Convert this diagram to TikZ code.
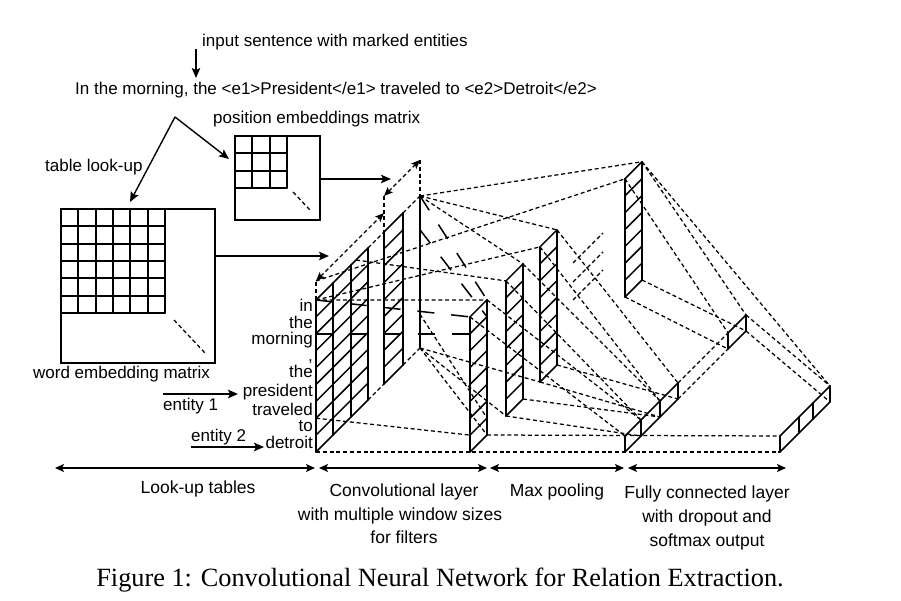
\documentclass[tikz,border=0pt]{standalone}
\usepackage{fontspec}
\setmainfont{Liberation Sans}
\newfontfamily\capfont{Liberation Serif}
\usetikzlibrary{arrows.meta}
\newcommand{\pp}[3]{({(#1)+(#3)},{(#2)-(#3)})}
\newcommand{\cc}[4]{\path \pp{#2}{#3}{#4} coordinate (#1);}
\begin{document}
\begin{tikzpicture}[x=1pt,y=-1pt,
  sl/.style={line width=1.5pt, line cap=round},
  dl/.style={line width=1.25pt, dash pattern=on 4pt off 2.8pt},
  ld/.style={line width=1.5pt, dash pattern=on 17pt off 17pt},
  lbl/.style={font=\fontsize{17}{20}\selectfont, inner sep=0pt},
  wlbl/.style={lbl, anchor=base east},
  blbl/.style={font=\fontsize{17.5}{20}\selectfont, inner sep=0pt, anchor=base},
  arr/.style={line width=1.4pt, -{Stealth[length=10pt,width=8.5pt,inset=2pt]}},
  darr/.style={dl, {Stealth[length=9pt,width=7.5pt,inset=2pt]}-{Stealth[length=9pt,width=7.5pt,inset=2pt]}},
  barr/.style={line width=1.3pt, {Stealth[length=9pt,width=8pt,inset=2pt]}-{Stealth[length=9pt,width=8pt,inset=2pt]}}
]
\useasboundingbox (0,0) rectangle (901,601);

% ---------- texts ----------
\node[lbl,anchor=base west] (inp) at (202,47) {input sentence with marked entities};
\node[lbl,anchor=base west] (sent) at (75,95) {In the morning, the <e1>President</e1> traveled to <e2>Detroit</e2>};
\node[lbl,anchor=base west] (posl) at (213,124) {position embeddings matrix};
\node[lbl,anchor=base west] (tabl) at (45,172) {table look-up};
\node[lbl,anchor=base west] (wordl) at (33,378) {word embedding matrix};
\node[lbl,anchor=base west] (ent1) at (163,410) {entity 1};
\node[lbl,anchor=base west] (ent2) at (191,441) {entity 2};

\node[wlbl] (w1) at (313,312) {in};
\node[wlbl] (w2) at (313,328) {the};
\node[wlbl] (w3) at (313,344) {morning};
\node[wlbl] (w4) at (313,361) {,};
\node[wlbl] (w5) at (313,377) {the};
\node[wlbl] (w6) at (313,396) {president};
\node[wlbl] (w7) at (313,415) {traveled};
\node[wlbl] (w8) at (313,431) {to};
\node[wlbl] (w9) at (313,448) {detroit};

\node[blbl] (b1) at (198,493) {Look-up tables};
\node[blbl] (b2a) at (404,496) {Convolutional layer};
\node[blbl] (b2b) at (400,520) {with multiple window sizes};
\node[blbl] (b2c) at (404,543) {for filters};
\node[blbl] (b3) at (557,496) {Max pooling};
\node[blbl] (b4a) at (707,498) {Fully connected layer};
\node[blbl] (b4b) at (707,522) {with dropout and};
\node[blbl] (b4c) at (707,546) {softmax output};

\node[font=\capfont\fontsize{26.3}{30}\selectfont, inner sep=0pt, anchor=base] (cap) at (440,586) {Figure 1: Convolutional Neural Network for Relation Extraction.};

% ---------- top arrows ----------
\coordinate (ia) at (196,49); \coordinate (ib) at (196,78);
\draw[arr] (ia) -- (ib);
\coordinate (split) at (175,117);
\coordinate (tw) at (130,202); \coordinate (tp) at (229,159);
\draw[arr] (split) -- (tw);
\draw[arr] (split) -- (tp);

% ---------- matrices ----------
\draw[sl] (61,209) rectangle (215,363);
\foreach \v in {61,78,96,113,130,148,165} \draw[sl] (\v,209) -- (\v,313);
\foreach \v in {209,226,244,261,278,296,313} \draw[sl] (61,\v) -- (165,\v);
\draw[dl] (174,320) -- (205,353);
\draw[sl] (235,136) rectangle (320,220);
\foreach \v in {235,252,270,287} \draw[sl] (\v,136) -- (\v,188);
\foreach \v in {136,153,171,188} \draw[sl] (235,\v) -- (287,\v);
\draw[dl] (293,192) -- (310,210);

\coordinate (wm) at (215,256); \coordinate (wmt) at (329,256);
\coordinate (pm) at (320,179); \coordinate (pmt) at (391,179);
\draw[arr] (wm) -- (wmt);
\draw[arr] (pm) -- (pmt);

\coordinate (e1a) at (163,394); \coordinate (e1b) at (238,394);
\coordinate (e2a) at (191,447); \coordinate (e2b) at (264,447);
\draw[arr] (e1a) -- (e1b);
\draw[arr] (e2a) -- (e2b);

% ---------- bottom range arrows ----------
\coordinate (r0) at (55,468); \coordinate (r1) at (315,468);
\coordinate (r2) at (319,468); \coordinate (r3) at (487,468);
\coordinate (r4) at (490,468); \coordinate (r5) at (624,468);
\coordinate (r6) at (628,468); \coordinate (r7) at (786,468);
\draw[barr] (r0) -- (r1);
\draw[barr] (r2) -- (r3);
\draw[barr] (r4) -- (r5);
\draw[barr] (r6) -- (r7);

% ---------- input box ----------
\foreach \d in {0,17,35,52} \draw[sl] \pp{316}{300}{\d} -- \pp{316}{452}{\d};
\foreach \k in {0,...,9} \draw[sl] \pp{316}{300+\k*16.89}{0} -- \pp{316}{300+\k*16.89}{52};
\foreach \d in {68,87} \draw[sl] \pp{316}{300}{\d} -- \pp{316}{452}{\d};
\foreach \k in {0,...,9} \draw[sl] \pp{316}{300+\k*16.89}{68} -- \pp{316}{300+\k*16.89}{87};
\draw[sl] \pp{316}{300}{104} -- \pp{316}{452}{104};
\foreach \y in {300,452} {
  \draw[dl] \pp{316}{\y}{52} -- \pp{316}{\y}{68};
  \draw[dl] \pp{316}{\y}{87} -- \pp{316}{\y}{104};
}
% dimension arrows
\draw[dl] \pp{316}{300}{0} -- \pp{316}{281}{0};
\draw[darr] \pp{316}{281}{0} -- \pp{316}{281}{68};
\draw[dl] \pp{316}{264}{68} -- \pp{316}{300}{68};
\draw[darr] \pp{316}{264}{68} -- \pp{316}{264}{104};
\draw[dl] \pp{316}{264}{104} -- \pp{316}{300}{104};

% ---------- conv feature columns ----------
\foreach \a/\b in {0/17,36/53,70/87} {
  \draw[sl] \pp{470}{316.9}{\a} -- \pp{470}{452}{\a};
  \draw[sl] \pp{470}{316.9}{\b} -- \pp{470}{452}{\b};
  \foreach \k in {0,...,8} \draw[sl] \pp{470}{316.9+\k*16.89}{\a} -- \pp{470}{316.9+\k*16.89}{\b};
}
\draw[sl] \pp{470}{333.8}{155} -- \pp{470}{452}{155};
\draw[sl] \pp{470}{333.8}{172} -- \pp{470}{452}{172};
\foreach \k in {0,...,7} \draw[sl] \pp{470}{333.8+\k*16.89}{155} -- \pp{470}{333.8+\k*16.89}{172};

% ---------- pooled vector, small bar, output ----------
\draw[sl] \pp{625}{436}{0} -- \pp{625}{436}{53};
\draw[sl] \pp{625}{452}{0} -- \pp{625}{452}{53};
\foreach \d in {0,16,35,53} \draw[sl] \pp{625}{436}{\d} -- \pp{625}{452}{\d};
\draw[sl] \pp{625}{436}{103} -- \pp{625}{436}{121};
\draw[sl] \pp{625}{452}{103} -- \pp{625}{452}{121};
\foreach \d in {103,121} \draw[sl] \pp{625}{436}{\d} -- \pp{625}{452}{\d};
\draw[sl] \pp{780}{436}{0} -- \pp{780}{436}{50};
\draw[sl] \pp{780}{452}{0} -- \pp{780}{452}{50};
\foreach \d in {0,19,33,50} \draw[sl] \pp{780}{436}{\d} -- \pp{780}{452}{\d};

% ---------- named corners ----------
\cc{FT}{316}{300}{0}
\cc{FT2}{316}{281}{0}
\cc{BT}{316}{300}{104}
\cc{BB}{316}{452}{104}
\cc{FB}{316}{452}{0}
\cc{FW1}{316}{333.8}{0}
\cc{BW1}{316}{333.8}{104}
\cc{FWn}{316}{418.2}{0}
\cc{BWn}{316}{418.2}{104}
\coordinate (Bsrc) at (356,260);
\cc{ATL}{470}{316.9}{0}
\cc{ATR}{470}{316.9}{17}
\cc{ABL}{470}{452}{0}
\cc{ABR}{470}{452}{17}
\cc{A1L}{470}{333.8}{0}
\cc{A1R}{470}{333.8}{17}
\cc{AnL}{470}{435.1}{0}
\cc{AnR}{470}{435.1}{17}
\cc{BTL}{470}{316.9}{36}
\cc{BTR}{470}{316.9}{53}
\cc{BBL}{470}{452}{36}
\cc{BBR}{470}{452}{53}
\cc{CTL}{470}{316.9}{70}
\cc{CTR}{470}{316.9}{87}
\cc{CBL}{470}{452}{70}
\cc{CBR}{470}{452}{87}
\cc{DTL}{470}{333.8}{155}
\cc{DTR}{470}{333.8}{172}
\cc{DBL}{470}{452}{155}
\cc{DBR}{470}{452}{172}
\cc{P0t}{625}{436}{0}
\cc{P1t}{625}{436}{16}
\cc{P2t}{625}{436}{35}
\cc{P3t}{625}{436}{53}
\cc{P1b}{625}{452}{16}
\cc{P2b}{625}{452}{35}
\cc{P3b}{625}{452}{53}
\cc{STL}{625}{436}{103}
\cc{STR}{625}{436}{121}
\cc{SBL}{625}{452}{103}
\cc{SBR}{625}{452}{121}
\cc{OTL}{780}{436}{0}
\cc{OTR}{780}{436}{50}
\cc{OBL}{780}{452}{0}
\cc{OBR}{780}{452}{50}

% ---------- filter (long dashed) ----------
\draw[ld] (FT) -- (ATL);
\draw[ld] (FW1) -- (A1L);
\draw[ld] (BT) -- (ATR);
\draw[ld] (BW1) -- (A1R);

% ---------- convolution connectors ----------
\draw[dl] (FWn) -- (AnL);
\draw[dl] (BWn) -- (AnR);
\draw[dl] (BB) -- (ABR);
\draw[dl] (FB) -- (OBL);
\draw[dl] (ABR) -- (OTL);
\draw[dl] (FT) -- (ATR);
\draw[dl] (Bsrc) -- (BTL);
\draw[dl] (BT) -- (BTR);
\draw[dl] (BB) -- (BBL);
\draw[dl] (FT) -- (CTL);
\draw[dl] (BT) -- (CTR);
\draw[dl] (BB) -- (CBL);
\draw[dl] (FT2) -- (DTL);
\draw[dl] (BT) -- (DTR);

% ---------- pooling connectors ----------
\draw[dl] (ATL) -- (P0t);
\draw[dl] (ATR) -- (P1t);
\draw[dl] (BTL) -- (P1t);
\draw[dl] (BTR) -- (P2t);
\draw[dl] (BBL) -- (P1b);
\draw[dl] (BBR) -- (P2b);
\draw[dl] (CTL) -- (P2t);
\draw[dl] (CTR) -- (P3t);
\draw[dl] (CBL) -- (P2b);
\draw[dl] (CBR) -- (P3b);
\draw[dl] (DTL) -- (STL);
\draw[dl] (DTR) -- (STR);
\draw[dl] (DBL) -- (SBL);
\draw[dl] (DBR) -- (SBR);
\draw[dl] (P3t) -- (STL);
\draw[dl] (P3b) -- (SBL);

% ---------- fully connected ----------
\draw[dl] (STR) -- (OTR);
\draw[dl] (SBR) -- (OBR);
\draw[dl] (DTR) -- (OTR);

% ---------- more filters (ellipsis) ----------
\coordinate (x1a) at (573,263); \coordinate (x1b) at (603,233);
\coordinate (x2a) at (573,282); \coordinate (x2b) at (603,252);
\coordinate (x3a) at (573,300); \coordinate (x3b) at (603,270);
\draw[dl] (x1a) -- (x1b);
\draw[dl] (x2a) -- (x2b);
\draw[dl] (x3a) -- (x3b);
\end{tikzpicture}
\end{document}
